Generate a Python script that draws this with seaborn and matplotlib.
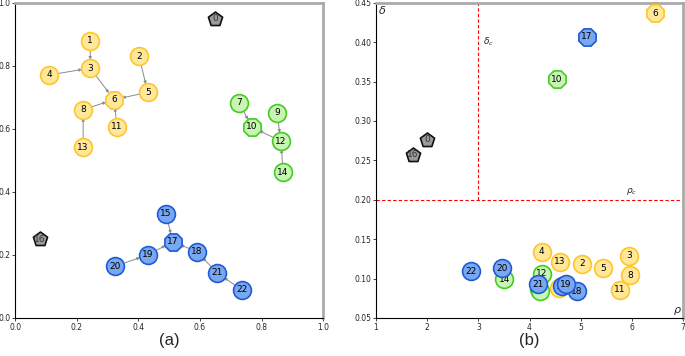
import numpy as np
import pandas as pd
import matplotlib
matplotlib.use("Agg")
import matplotlib.pyplot as plt
import seaborn as sns

# node data: position (a), density rho / distance delta (b), cluster, parent
node_id = list(range(23))
pos_x = [0.649, 0.244, 0.402, 0.244, 0.111, 0.431, 0.321, 0.728, 0.221, 0.850, 0.768, 0.331,
         0.863, 0.221, 0.870, 0.490, 0.081, 0.512, 0.590, 0.431, 0.325, 0.656, 0.736]
pos_y = [0.949, 0.880, 0.831, 0.793, 0.771, 0.716, 0.693, 0.683, 0.661, 0.651, 0.606, 0.606,
         0.561, 0.541, 0.462, 0.330, 0.250, 0.242, 0.210, 0.200, 0.164, 0.143, 0.089]
rho = [2.00, 4.58, 5.02, 5.95, 4.24, 5.44, 6.46, 4.19, 5.96, 4.20, 4.54, 5.76,
       4.24, 4.59, 3.51, 4.63, 1.72, 5.12, 4.93, 4.71, 3.46, 4.17, 2.86]
delta = [0.276, 0.088, 0.119, 0.129, 0.134, 0.113, 0.437, 0.087, 0.104, 0.084, 0.353, 0.086,
         0.106, 0.121, 0.099, 0.090, 0.257, 0.407, 0.084, 0.093, 0.113, 0.093, 0.109]
cluster = ["out", "y", "y", "y", "y", "y", "y", "g", "y", "g", "g", "y",
           "g", "y", "g", "b", "out", "b", "b", "b", "b", "b", "b"]
kind = ["outlier", "member", "member", "member", "member", "member", "center", "member", "member",
        "member", "center", "member", "member", "member", "member", "member", "outlier", "center",
        "member", "member", "member", "member", "member"]
parent = [None, 3, 5, 6, 3, 6, None, 10, 6, 12, None, 6, 10, 8, 12, 17, None, None, 17, 17, 19, 18, 21]

fills = {"y": "#FFE89A", "g": "#C8F5B4", "b": "#7AA8F0", "out": "#9A9A9A"}
edges = {"y": "#FFC52A", "g": "#44CC22", "b": "#1E5BD8", "out": "#111111"}
markers = {"member": "o", "center": "8", "outlier": "p"}
sizes = {"member": 165, "center": 180, "outlier": 115}

df = pd.DataFrame({"id": node_id, "x": pos_x, "y": pos_y, "rho": rho, "delta": delta,
                   "cluster": cluster, "kind": kind})

sns.set_style("white")
plt.rcParams["font.family"] = ["DejaVu Sans"]

fig = plt.figure(figsize=(6.85, 3.56), dpi=100)
ax1 = fig.add_axes([0.022, 0.107, 0.4497, 0.885])
ax2 = fig.add_axes([0.549, 0.107, 0.448, 0.885])


def style_axes(ax):
    for s in ["left", "bottom"]:
        ax.spines[s].set_color("black")
        ax.spines[s].set_linewidth(0.8)
    for s in ["top", "right"]:
        ax.spines[s].set_color("#aaaaaa")
        ax.spines[s].set_linewidth(2)
    ax.tick_params(axis="both", labelsize=5.5, length=2.5, width=0.6, pad=1,
                   direction="out", bottom=True, left=True)
    ax.set_xlabel("")
    ax.set_ylabel("")


def draw_nodes(ax, xcol, ycol):
    # every node gets its own layer so later nodes hide earlier labels
    for k, r in df.iterrows():
        sub = df[df["id"] == r["id"]]
        z = 3 + 2 * k
        sns.scatterplot(data=sub, x=xcol, y=ycol, ax=ax, marker=markers[r["kind"]],
                        s=sizes[r["kind"]], color=fills[r["cluster"]],
                        edgecolor=edges[r["cluster"]], linewidth=1.2, zorder=z, legend=False)
        tc = "#333333" if r["kind"] == "outlier" else "black"
        ax.text(r[xcol], r[ycol], str(r["id"]), ha="center", va="center",
                fontsize=6.5, color=tc, zorder=z + 1)


# (a) decision graph in the plane
for i, p in enumerate(parent):
    if p is None:
        continue
    ax1.annotate("", xy=(pos_x[p], pos_y[p]), xytext=(pos_x[i], pos_y[i]),
                 arrowprops=dict(arrowstyle="-|>", color="#8a8a8a", lw=0.7,
                                 mutation_scale=4, shrinkA=6, shrinkB=6), zorder=1)
draw_nodes(ax1, "x", "y")
ax1.set_xlim(0, 1)
ax1.set_ylim(0, 1)
ax1.set_xticks(np.arange(0, 1.01, 0.2))
ax1.set_yticks(np.arange(0, 1.01, 0.2))
style_axes(ax1)

# (b) rho / delta decision graph
ax2.plot([3, 3], [0.2, 0.45], color="red", lw=0.8, ls=(0, (3, 2)), zorder=1)
ax2.plot([1, 7], [0.2, 0.2], color="red", lw=0.8, ls=(0, (3, 2)), zorder=1)
draw_nodes(ax2, "rho", "delta")
ax2.set_xlim(1, 7)
ax2.set_ylim(0.05, 0.45)
ax2.set_xticks(range(1, 8))
ax2.set_yticks(np.arange(0.05, 0.451, 0.05))
ax2.set_yticklabels([f"{v:.2f}" for v in np.arange(0.05, 0.451, 0.05)])
style_axes(ax2)
ax2.text(1.12, 0.441, r"$\delta$", fontsize=8, ha="center", va="center")
ax2.text(3.19, 0.40, r"$\delta_c$", fontsize=6.5, ha="center", va="center")
ax2.text(6.0, 0.21, r"$\rho_c$", fontsize=6.5, ha="center", va="center")
ax2.text(6.9, 0.059, r"$\rho$", fontsize=8, ha="center", va="center")

fig.text(169 / 685, 1 - 341 / 356, "(a)", fontsize=12, ha="center", va="center",
         family=["Liberation Sans", "DejaVu Sans"])
fig.text(529 / 685, 1 - 341 / 356, "(b)", fontsize=12, ha="center", va="center",
         family=["Liberation Sans", "DejaVu Sans"])

fig.savefig("out.png", dpi=100)
